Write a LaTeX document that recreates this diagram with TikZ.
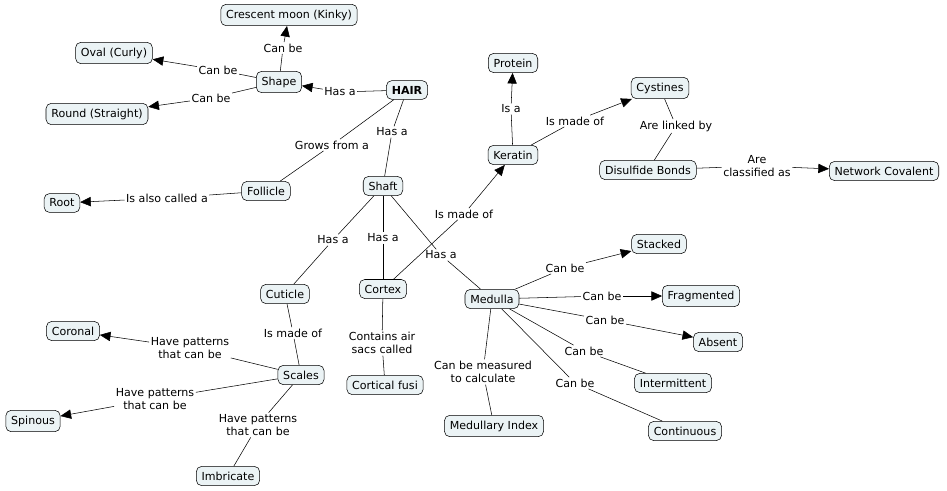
\documentclass[tikz,border=0pt]{standalone}
\usepackage{fontspec}
\setmainfont{DejaVu Sans}
\usetikzlibrary{arrows.meta}
\definecolor{conceptfill}{HTML}{EBF3F5}
\tikzset{
    concept/.style={draw, rounded corners=4pt, fill=conceptfill, inner sep=4pt, font=\fontsize{8.3}{10}\selectfont},
    phrase/.style={fill=white, inner sep=1pt, align=center, font=\fontsize{8.3}{10}\selectfont},
    arr/.style={-{Triangle[length=8pt,width=7pt]}},
}
\begin{document}
\begin{tikzpicture}[x=0.75pt,y=-0.75pt]
    \useasboundingbox (0,0) rectangle (947,490);

    % concepts
    \node[concept] (moon) at (289,15) {Crescent moon (Kinky)};
    \node[concept] (oval) at (114,53) {Oval (Curly)};
    \node[concept] (shape) at (279,82) {Shape};
    \node[concept] (hair) at (407,90) {\textbf{HAIR}};
    \node[concept] (round) at (97,114) {Round (Straight)};
    \node[concept] (protein) at (513,63) {Protein};
    \node[concept] (cystines) at (660,88) {Cystines};
    \node[concept] (keratin) at (513,155) {Keratin};
    \node[concept] (disulfide) at (648,170) {Disulfide Bonds};
    \node[concept] (network) at (884,171) {Network Covalent};
    \node[concept] (root) at (62,203) {Root};
    \node[concept] (follicle) at (266,191) {Follicle};
    \node[concept] (shaft) at (383,186) {Shaft};
    \node[concept] (stacked) at (659,244) {Stacked};
    \node[concept] (cuticle) at (285,294) {Cuticle};
    \node[concept] (cortex) at (383,289) {Cortex};
    \node[concept] (medulla) at (492,299) {Medulla};
    \node[concept] (fragmented) at (701,296) {Fragmented};
    \node[concept] (coronal) at (73,331) {Coronal};
    \node[concept] (absent) at (718,342) {Absent};
    \node[concept] (scales) at (301,375) {Scales};
    \node[concept] (fusi) at (385,385) {Cortical fusi};
    \node[concept] (intermittent) at (673,383) {Intermittent};
    \node[concept] (spinous) at (33,421) {Spinous};
    \node[concept] (index) at (494,426) {Medullary Index};
    \node[concept] (continuous) at (685,431) {Continuous};
    \node[concept] (imbricate) at (228,476) {Imbricate};

    % linking phrases
    \node[phrase] (l1) at (283,48) {Can be};
    \node[phrase] (l2) at (218,70) {Can be};
    \node[phrase] (l3) at (211,98) {Can be};
    \node[phrase] (l4) at (340,92) {Has a};
    \node[phrase] (l5) at (332,145) {Grows from a};
    \node[phrase] (l6) at (392,132) {Has a};
    \node[phrase] (l7) at (167,198) {Is also called a};
    \node[phrase] (l8) at (511,109) {Is a};
    \node[phrase] (l9) at (575,121) {Is made of};
    \node[phrase] (l10) at (676,126) {Are linked by};
    \node[phrase] (l11) at (757,166) {Are\\classified as};
    \node[phrase] (l12) at (464,214) {Is made of};
    \node[phrase] (l13) at (333,240) {Has a};
    \node[phrase] (l14) at (383,238) {Has a};
    \node[phrase] (l15) at (441,255) {Has a};
    \node[phrase] (l16) at (565,268) {Can be};
    \node[phrase] (l17) at (602,296) {Can be};
    \node[phrase] (l18) at (605,320) {Can be};
    \node[phrase] (l19) at (584,351) {Can be};
    \node[phrase] (l20) at (575,383) {Can be};
    \node[phrase] (l21) at (483,372) {Can be measured\\to calculate};
    \node[phrase] (l22) at (382,343) {Contains air\\sacs called};
    \node[phrase] (l23) at (293,333) {Is made of};
    \node[phrase] (l24) at (190,348) {Have patterns\\that can be};
    \node[phrase] (l25) at (155,399) {Have patterns\\that can be};
    \node[phrase] (l26) at (258,425) {Have patterns\\that can be};

    % connectors
    \draw (shape) -- (l1); \draw[arr] (l1) -- (moon);
    \draw (shape) -- (l2); \draw[arr] (l2) -- (oval);
    \draw (shape) -- (l3); \draw[arr] (l3) -- (round);
    \draw (hair) -- (l4); \draw[arr] (l4) -- (shape);
    \draw (hair) -- (l5) -- (follicle);
    \draw (hair) -- (l6) -- (shaft);
    \draw (follicle) -- (l7); \draw[arr] (l7) -- (root);
    \draw (keratin) -- (l8); \draw[arr] (l8) -- (protein);
    \draw (keratin) -- (l9); \draw[arr] (l9) -- (cystines);
    \draw (cystines) -- (l10) -- (disulfide);
    \draw (disulfide) -- (l11); \draw[arr] (l11) -- (network);
    \draw (cortex) -- (l12); \draw[arr] (l12) -- (keratin);
    \draw (shaft) -- (l13) -- (cuticle);
    \draw (shaft) -- (l14) -- (cortex);
    \draw (shaft) -- (l15) -- (medulla);
    \draw (medulla) -- (l16); \draw[arr] (l16) -- (stacked);
    \draw (medulla) -- (l17); \draw[arr] (l17) -- (fragmented);
    \draw (medulla) -- (l18); \draw[arr] (l18) -- (absent);
    \draw (medulla) -- (l19) -- (intermittent);
    \draw (medulla) -- (l20) -- (continuous);
    \draw (medulla) -- (l21) -- (index);
    \draw (cortex) -- (l22) -- (fusi);
    \draw (cuticle) -- (l23) -- (scales);
    \draw (scales) -- (l24); \draw[arr] (l24) -- (coronal);
    \draw (scales) -- (l25); \draw[arr] (l25) -- (spinous);
    \draw (scales) -- (l26) -- (imbricate);
\end{tikzpicture}
\end{document}
